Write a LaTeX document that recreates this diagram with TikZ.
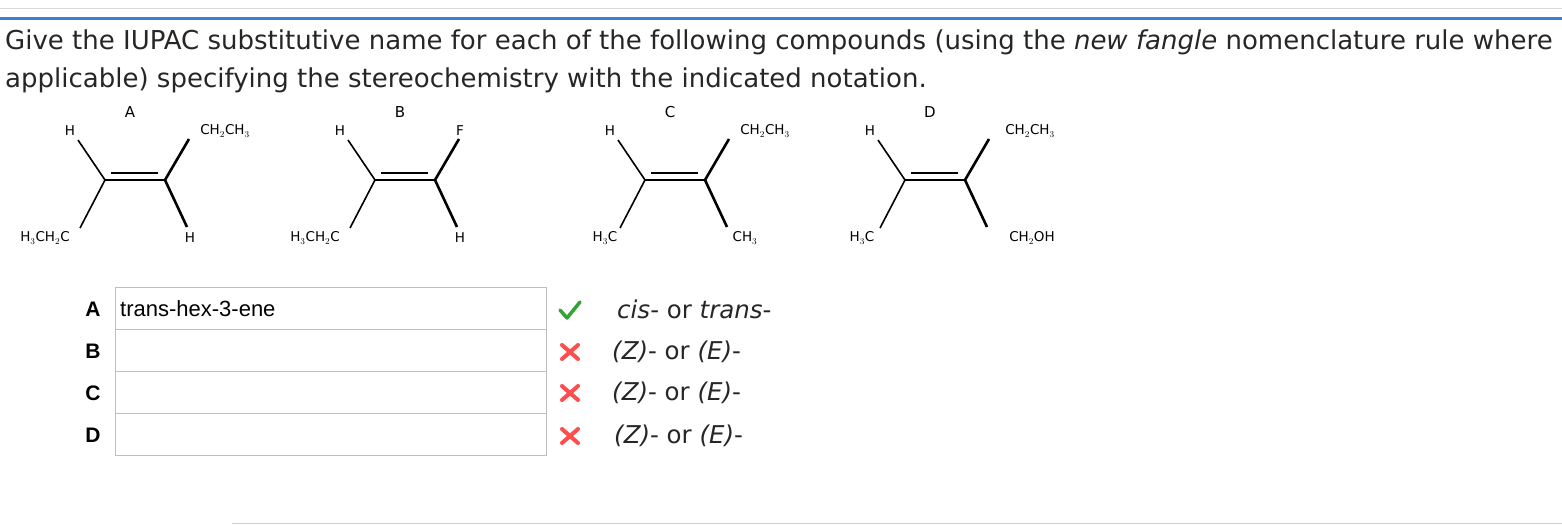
\documentclass[tikz,border=0pt]{standalone}
\usepackage{fontspec}
\setmainfont{DejaVu Sans}
\newfontfamily\arial{Liberation Sans}
\definecolor{topblue}{HTML}{3B7DD8}
\begin{document}
\begin{tikzpicture}[x=1pt,y=-1pt,
  lab/.style={font=\fontsize{13.5}{13.5}\selectfont,inner sep=0pt},
  bnd/.style={line width=1.6pt},
  dbl/.style={line width=2.6pt},
  wdg/.style={line width=2.6pt},
  ent/.style={draw=black!25,line width=0.8pt},
  qtext/.style={font=\fontsize{26}{30}\selectfont,anchor=west,inner sep=0pt,text=black!85},
  ntext/.style={font=\fontsize{24.5}{30}\selectfont,anchor=west,inner sep=0pt,text=black!85}]
\useasboundingbox (0,0) rectangle (1562,528);
\draw[black!15,line width=0.8pt] (0,8) -- (1562,8);
\draw[topblue,line width=3pt] (0,18) -- (1562,18);
\node[qtext] (q1) at (5,42) {Give the IUPAC substitutive name for each of the following compounds (using the \textit{new fangle} nomenclature rule where};
\node[qtext] (q2) at (5,80) {applicable) specifying the stereochemistry with the indicated notation.};
% structures
\foreach \ox/\L/\TR/\BL/\BR/\TRx/\BLx/\BRx in {0/A/CH$_2$CH$_3$/H$_3$CH$_2$C/H/225/45/190,
  270/B/F/H$_3$CH$_2$C/H/460/315/460,
  540/C/CH$_2$CH$_3$/H$_3$C/CH$_3$/765/605/745,
  800/D/CH$_2$CH$_3$/H$_3$C/CH$_2$OH/1030/862/1032}{
  \begin{scope}[xshift=\ox]
  \node[lab,font=\fontsize{15}{15}\selectfont] (L\L) at (130,112) {\L};
  \coordinate (c1\L) at (105,180);
  \coordinate (c2\L) at (165,180);
  \node[lab] (th\L) at (70,131) {H};
  \node[lab] (bl\L) at (\BLx-\ox,238) {\BL};
  \draw[dbl] (c1\L) -- (c2\L);
  \draw[dbl] (111,173) -- (158,173);
  \draw[bnd] (c1\L) -- (78,140);
  \draw[bnd] (c1\L) -- (80,228);
  \draw[wdg] (c2\L) -- (189,139);
  \draw[wdg] (c2\L) -- (187,227);
  \end{scope}
  \node[lab] (tr\L) at (\TRx,131) {\TR};
  \node[lab] (br\L) at (\BRx,238) {\BR};
}
% table
\foreach \L/\y in {A/287,B/329,C/371,D/413}{
  \draw[ent] (115,\y) rectangle (546,\y+42);
  \node[font=\arial\bfseries\fontsize{21}{21}\selectfont,inner sep=0pt] (r\L) at (93,\y+22) {\L};
}
\node[font=\arial\fontsize{22}{22}\selectfont,anchor=west,inner sep=0pt] (ans) at (120,309) {trans-hex-3-ene};
\draw[green!55!black!80,line width=3.5pt,line cap=round,line join=round] (560,310) -- (567,318) -- (580,302);
\foreach \y in {352,393,436}{
  \draw[red!70,line width=4pt,line cap=round] (562,\y-7) -- (578,\y+7) (562,\y+7) -- (578,\y-7);
}
\node[ntext] (n1) at (617,309) {\textit{cis}- or \textit{trans}-};
\node[ntext] (n2) at (612,352) {\textit{(Z)}- or \textit{(E)}-};
\node[ntext] (n3) at (612,393) {\textit{(Z)}- or \textit{(E)}-};
\node[ntext] (n4) at (614,436) {\textit{(Z)}- or \textit{(E)}-};
\draw[black!20,line width=1pt] (232,523) -- (1562,523);
\end{tikzpicture}
\end{document}
